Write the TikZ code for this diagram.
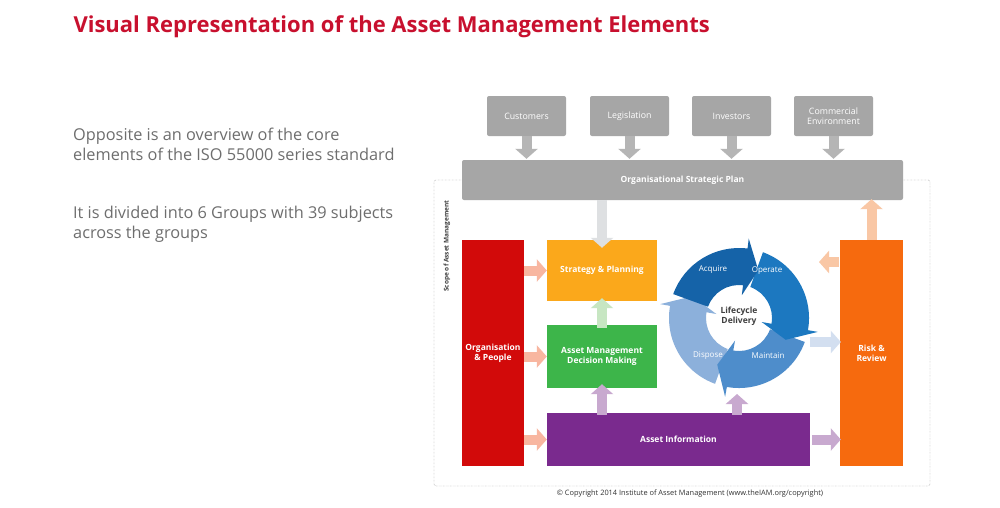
\documentclass[tikz,border=0pt]{standalone}
\usepackage{fontspec}
\setmainfont{Open Sans}
\usetikzlibrary{arrows.meta}
\definecolor{ttl}{HTML}{C8102E}
\definecolor{txt}{HTML}{6E6E6E}
\definecolor{gbox}{HTML}{A6A6A6}
\definecolor{garr}{HTML}{B5B5B5}
\definecolor{redb}{HTML}{D20A0A}
\definecolor{orab}{HTML}{FBA81B}
\definecolor{greb}{HTML}{3DB54A}
\definecolor{purb}{HTML}{7A2A8E}
\definecolor{risb}{HTML}{F66A0E}
\definecolor{salm}{HTML}{F8B6A0}
\definecolor{peach}{HTML}{F9C7A5}
\definecolor{lgre}{HTML}{C7E6C2}
\definecolor{lpur}{HTML}{C8A9CF}
\definecolor{lblu}{HTML}{D3DFF0}
\definecolor{lgry}{HTML}{DEE0E2}
\definecolor{cA}{HTML}{1563A8}
\definecolor{cO}{HTML}{1C78C0}
\definecolor{cM}{HTML}{4E8DCB}
\definecolor{cD}{HTML}{8CB0DB}
\tikzset{
 gtop/.style={fill=gbox,rounded corners=2pt,minimum width=79pt,minimum height=40pt,text=white,font=\fontsize{8.8}{10.5}\selectfont,align=center,inner sep=1pt},
 blk/.style={text=white,font=\bfseries\fontsize{8.5}{10}\selectfont,align=center,inner sep=1pt},
 fat/.style={line width=10pt,-{Triangle[width=22pt,length=10pt]},draw=#1},
 seglab/.style={text=white,font=\fontsize{8}{10}\selectfont}
}
\newcommand{\cycseg}[3]{%
 \fill[#1] ([shift={(739,318)}]#2:70) arc[start angle=#2,end angle=#3-15,radius=70]
  -- ([shift={(739,318)}]#3-15:80) -- ([shift={(739,318)}]#3:51.5)
  -- ([shift={(739,318)}]#3-15:23) -- ([shift={(739,318)}]#3-15:33)
  arc[start angle=#3-15,end angle=#2,radius=33] -- cycle;}
\begin{document}
\begin{tikzpicture}[x=1pt,y=-1pt]
\useasboundingbox[fill=white] (0,0) rectangle (1000,507);
\node[anchor=west,text=ttl,font=\bfseries\fontsize{22}{26}\selectfont] (title) at (70,27) {Visual Representation of the Asset Management Elements};
\node[anchor=north west,text=txt,font=\fontsize{16.3}{20}\selectfont,align=left,inner sep=0] (t1) at (73,128) {Opposite is an overview of the core\\elements of the ISO 55000 series standard};
\node[anchor=north west,text=txt,font=\fontsize{16.3}{20}\selectfont,align=left,inner sep=0] (t2) at (73,206) {It is divided into 6 Groups with 39 subjects\\across the groups};
% scope
\draw[densely dotted,black!60,rounded corners=2pt] (434,180) rectangle (930,486);
\node[rotate=90,text=black!75,font=\bfseries\fontsize{6.5}{7}\selectfont] (scope) at (447,246) {Scope of Asset Management};
% top boxes
\node[gtop] (cu) at (526.5,116) {Customers};
\node[gtop] (le) at (629.5,116) {Legislation};
\node[gtop] (in) at (731.5,116) {Investors};
\node[gtop] (ce) at (833.5,116) {Commercial\\Environment};
\node[fill=gbox,rounded corners=2pt,minimum width=441pt,minimum height=40pt,blk] (osp) at (682.5,180) {Organisational Strategic Plan};
\foreach \n in {cu,le,in,ce}{\draw[fat=garr] (\n.south) -- ([yshift=1pt]\n.south |- osp.north);}
% blocks
\node[fill=redb,minimum width=62pt,minimum height=226pt,blk] (op) at (493,353) {Organisation\\\& People};
\node[fill=orab,minimum width=110pt,minimum height=61pt,blk] (sp) at (602,270.5) {Strategy \& Planning};
\node[fill=greb,minimum width=110pt,minimum height=63pt,blk] (dm) at (602,356.5) {Asset Management\\Decision Making};
\node[fill=purb,minimum width=263pt,minimum height=53pt,blk] (ai) at (678.5,439.5) {Asset Information};
\node[fill=risb,minimum width=63pt,minimum height=226pt,blk] (rr) at (871.5,353) {Risk \&\\Review};
% arrows
\draw[fat=lgry] (osp.south -| sp) -- ([yshift=-8pt]sp.north);
\draw[fat=lgre] ([yshift=-3pt]dm.north) -- ([yshift=3pt]sp.south);
\draw[fat=salm] (op.east |- sp) -- (sp.west);
\draw[fat=salm] (op.east |- dm) -- (dm.west);
\draw[fat=salm] (op.east |- ai) -- (ai.west);
\draw[fat=lpur] ([yshift=-2pt]ai.north -| dm) -- ([yshift=4pt]dm.south);
\coordinate (cyb) at (737,394);
\draw[fat=lpur] ([yshift=-2pt]ai.north -| cyb) -- (cyb);
\draw[fat=lpur] ([xshift=2pt]ai.east) -- ([xshift=1pt]rr.west |- ai);
\draw[fat=lblu] (810,342) -- ([xshift=1pt]rr.west |- 0,342);
\draw[fat=peach] ([xshift=-1pt]rr.west |- 0,262) -- (819,262);
\draw[fat=peach] (rr.north) -- ([yshift=1pt]rr.north |- osp.south);
% cycle
\cycseg{cD}{110}{205}
\cycseg{cM}{20}{115}
\cycseg{cO}{-70}{25}
\cycseg{cA}{-160}{-68}
\node[seglab] (acq) at (713,270) {Acquire};
\node[seglab] (ope) at (767,271) {Operate};
\node[seglab] (mai) at (768,356) {Maintain};
\node[seglab] (dis) at (708,356) {Dispose};
\node[align=center,text=black!75,font=\bfseries\fontsize{8.5}{10}\selectfont] (lcd) at (739,316) {Lifecycle\\Delivery};
\node[text=black!80,font=\fontsize{7.4}{9}\selectfont] (cp) at (690,494) {© Copyright 2014 Institute of Asset Management (www.theIAM.org/copyright)};
\end{tikzpicture}
\end{document}
